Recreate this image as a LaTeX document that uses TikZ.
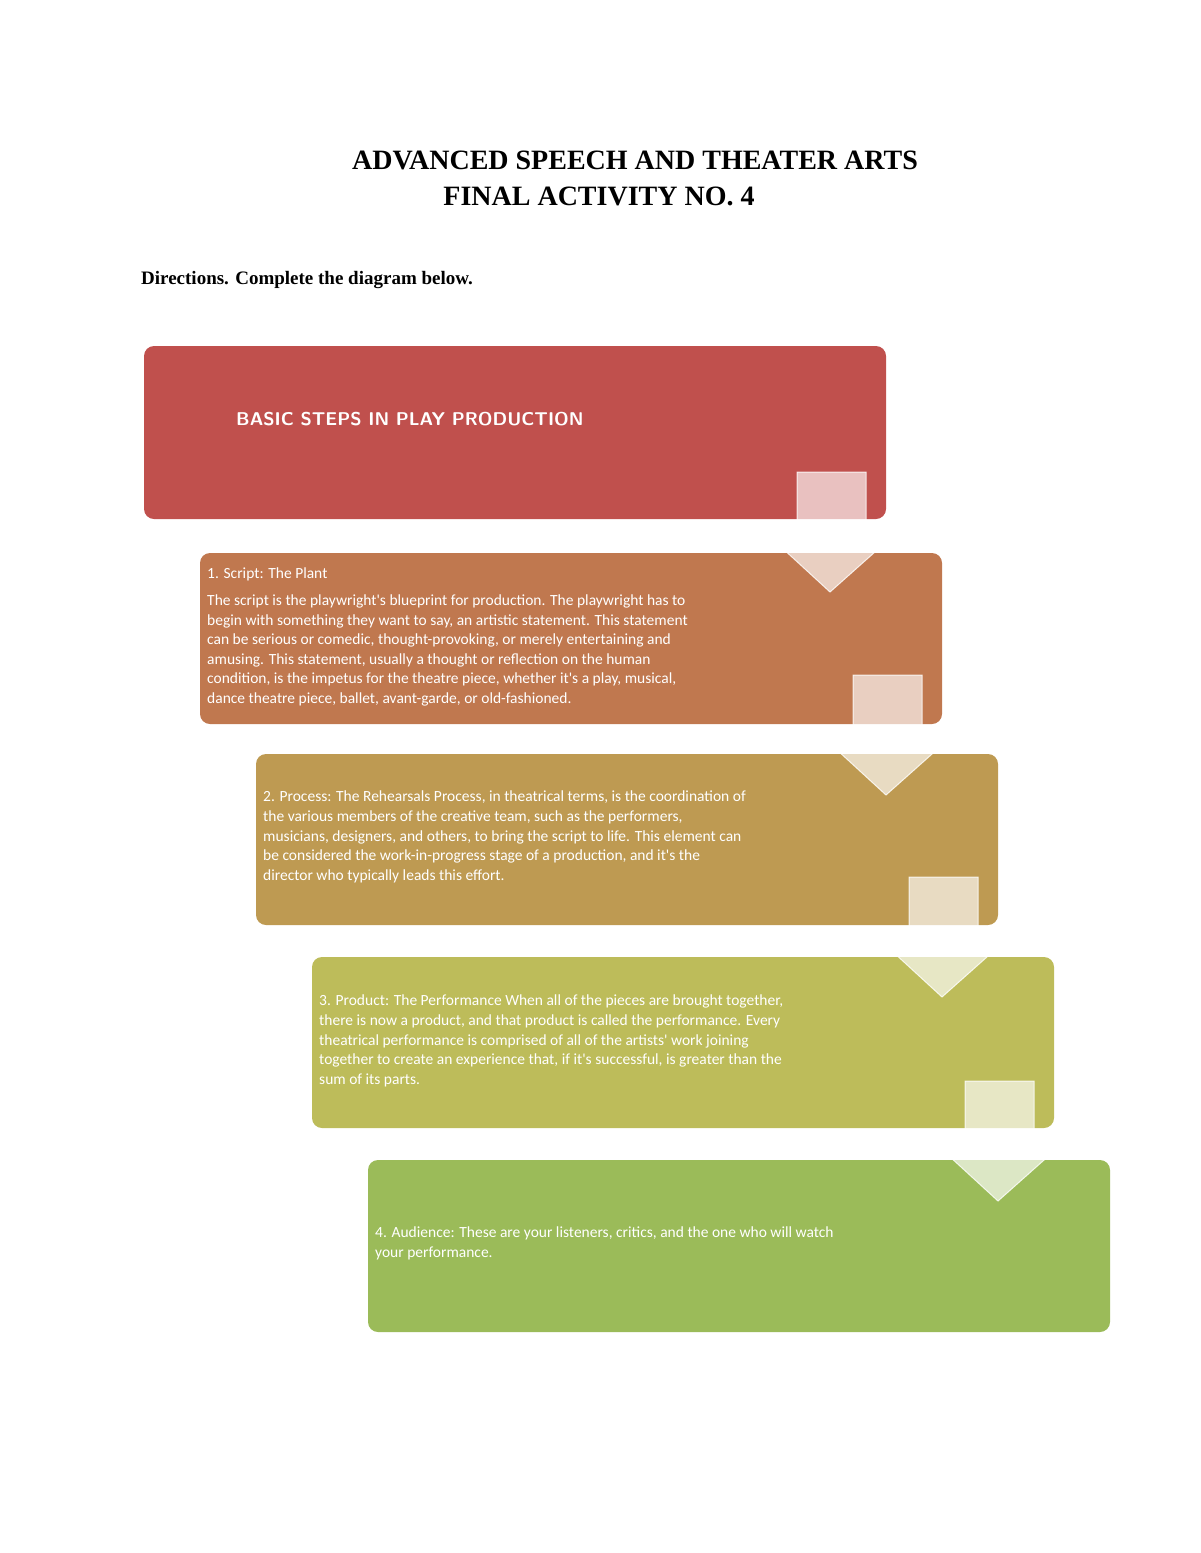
\documentclass[tikz,border=0pt]{standalone}
\usepackage{fontspec}
\setmainfont{Liberation Serif}
\newfontfamily\calfont{Carlito}
\definecolor{c0}{HTML}{C0504D}
\definecolor{c1}{HTML}{C0784F}
\definecolor{c2}{HTML}{BE9A52}
\definecolor{c3}{HTML}{BDBC5A}
\definecolor{c4}{HTML}{9BBB59}
\tikzset{box/.style={rounded corners=10pt},
 txt/.style={anchor=north west,align=left,text=white,font=\calfont\fontsize{15.5}{19.6}\selectfont,inner sep=0pt},
 arr/.style={fill=white,fill opacity=0.65,draw=white,draw opacity=0.8,line width=1pt}}
\newcommand{\arrowat}[2]{\fill[arr] (#1-33,#2) -- (#1+36,#2) -- (#1+36,#2+63) -- (#1+64,#2+63) -- (#1,#2+120) -- (#1-62,#2+63) -- (#1-33,#2+63) -- cycle;}
\begin{document}
\begin{tikzpicture}[x=1pt,y=-1pt]
\useasboundingbox (0,0) rectangle (1200,1553);
\node[font=\bfseries\fontsize{28}{32}\selectfont] (t1) at (635,160) {ADVANCED SPEECH AND THEATER ARTS};
\node[font=\bfseries\fontsize{28}{32}\selectfont] (t2) at (599,196) {FINAL ACTIVITY NO. 4};
\node[font=\bfseries\fontsize{19}{22}\selectfont,anchor=west,inner sep=0pt] (dir) at (141,280) {Directions. Complete the diagram below.};
\fill[c0,box] (144,346) rectangle (886,519);
\node[anchor=west,inner sep=0pt,text=white,font=\sffamily\bfseries\fontsize{18.5}{22}\selectfont] (h) at (236,419) {BASIC STEPS IN PLAY PRODUCTION};
\fill[c1,box] (200,553) rectangle (942,724);
\arrowat{830}{472}
\node[txt] (b1) at (207,568) {1. Script: The Plant\\[7pt]The script is the playwright's blueprint for production. The playwright has to\\begin with something they want to say, an artistic statement. This statement\\can be serious or comedic, thought-provoking, or merely entertaining and\\amusing. This statement, usually a thought or reflection on the human\\condition, is the impetus for the theatre piece, whether it's a play, musical,\\dance theatre piece, ballet, avant-garde, or old-fashioned.};
\fill[c2,box] (256,754) rectangle (998,925);
\arrowat{886}{675}
\node[txt] (b2) at (263,791) {2. Process: The Rehearsals Process, in theatrical terms, is the coordination of\\the various members of the creative team, such as the performers,\\musicians, designers, and others, to bring the script to life. This element can\\be considered the work-in-progress stage of a production, and it's the\\director who typically leads this effort.};
\fill[c3,box] (312,957) rectangle (1054,1128);
\arrowat{942}{877}
\node[txt] (b3) at (319,995) {3. Product: The Performance When all of the pieces are brought together,\\there is now a product, and that product is called the performance. Every\\theatrical performance is comprised of all of the artists' work joining\\together to create an experience that, if it's successful, is greater than the\\sum of its parts.};
\fill[c4,box] (368,1160) rectangle (1110,1332);
\arrowat{998}{1081}
\node[txt] (b4) at (375,1227) {4. Audience: These are your listeners, critics, and the one who will watch\\your performance.};
\end{tikzpicture}
\end{document}
